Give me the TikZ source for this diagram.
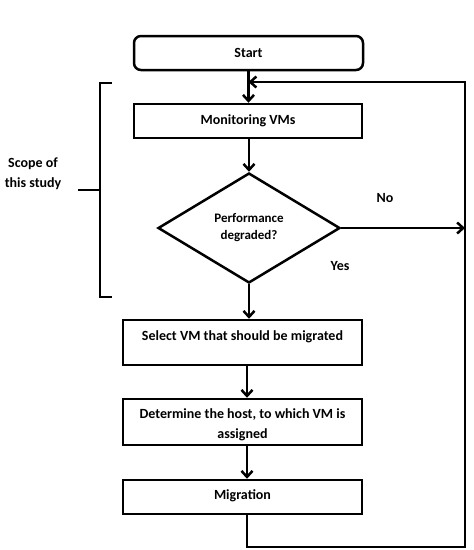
\documentclass[tikz,border=0pt]{standalone}
\usepackage{fontspec}
\setmainfont{Carlito}
\usetikzlibrary{arrows.meta,shapes.geometric}
\begin{document}
\begin{tikzpicture}[x=1pt,y=-1pt,line width=2.5pt,
  every node/.style={font=\fontsize{14}{20}\selectfont\bfseries, inner sep=0pt},
  box/.style={draw, rectangle, minimum width=239pt, align=center},
  arr/.style={-{Straight Barb[length=6pt,width=11pt,line width=2.5pt]}}]
\useasboundingbox (0,0) rectangle (474,550);
\node[box, rounded corners=7pt, minimum width=229pt, minimum height=34pt] (start) at (248.5,53) {Start};
\node[box, minimum width=228pt, minimum height=34pt] (mon) at (248,121) {Monitoring VMs};
\node[draw, diamond, minimum width=182pt, minimum height=110pt, align=center,
      font=\fontsize{13}{17}\selectfont\bfseries] (dec) at (249,228) {Performance\\degraded?};
\node[box, minimum height=45pt, text height=10pt, text depth=14pt] (sel) at (242.5,342.5) {Select VM that should be migrated};
\node[box, minimum height=46pt, text height=35pt] (det) at (242.5,422) {Determine the host, to which VM is\\assigned};
\node[box, minimum height=34pt, text height=10pt, text depth=6pt] (mig) at (242.5,497) {Migration};
\node (no) at (385,198) {No};
\node (yes) at (340,266) {Yes};
\node[align=center] (scope) at (33,174) {Scope of\\this study};
\coordinate (mid) at (247,0);
\coordinate (br) at (465,547);
\coordinate (tr) at (465,82);
\coordinate (join) at (248.5,82);
\coordinate (bt) at (112,83);
\coordinate (bb) at (112,297);
\coordinate (bm) at (78,190);
\draw[arr] (start.south) -- (start.south |- mon.north);
\draw[arr] (mon.south -| dec.north) -- (dec.north);
\draw[arr] (dec.south) -- (dec.south |- sel.north);
\draw[arr] (sel.south -| mid) -- (det.north -| mid);
\draw[arr] (det.south -| mid) -- (mig.north -| mid);
\draw[arr] (dec.east) -- (dec.east -| tr);
\draw[arr] (mig.south -| mid) |- (br) -- (tr) -- (join);
\draw (bt) -- ++(-12,0) |- (bb);
\draw (bm) -- ++(22,0);
\end{tikzpicture}
\end{document}
